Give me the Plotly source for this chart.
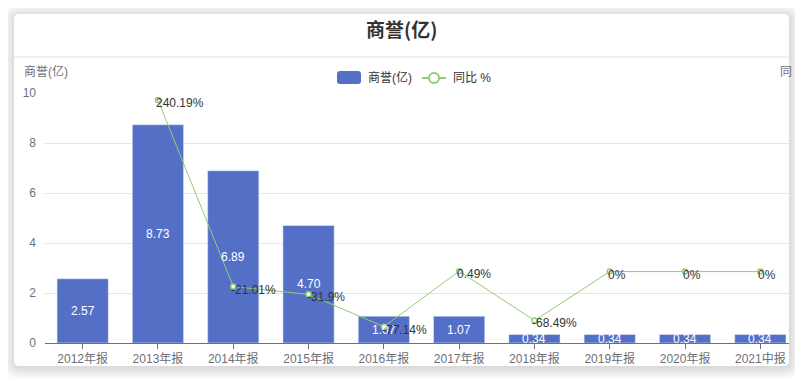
import plotly.graph_objects as go

categories = ["2012年报", "2013年报", "2014年报", "2015年报", "2016年报",
              "2017年报", "2018年报", "2019年报", "2020年报", "2021中报"]
goodwill = [2.57, 8.73, 6.89, 4.70, 1.07, 1.07, 0.34, 0.34, 0.34, 0.34]
goodwill_labels = ["2.57", "8.73", "6.89", "4.70", "1.07", "1.07", "0.34", "0.34", "0.34", "0.34"]
yoy = [None, 240.19, -21.01, -31.9, -77.14, 0.49, -68.49, 0, 0, 0]
yoy_labels = [None, "240.19%", "-21.01%", "-31.9%", "-77.14%", "0.49%", "-68.49%", "0%", "0%", "0%"]

W, H = 803, 381
OFF = 8  # page body margin
L, R, T, B = 45, 789, 93, 343  # plot area in screen pixels
FONT = "Liberation Sans, Noto Sans CJK SC, sans-serif"
BAR_C = "#5470c6"
LINE_C = "#91cc75"
AX_C = "#6E7079"


def px(x):
    return (x - L) / (R - L)


def py(y):
    return (B - y) / (B - T)


def rrect(x0, y0, x1, y1, r):
    a, b, c, d = px(x0), px(x1), py(y0), py(y1)
    rx = r / (R - L)
    ry = r / (B - T)
    return (f"M{a+rx},{c} L{b-rx},{c} Q{b},{c} {b},{c-ry} L{b},{d+ry} Q{b},{d} {b-rx},{d} "
            f"L{a+rx},{d} Q{a},{d} {a},{d+ry} L{a},{c-ry} Q{a},{c} {a+rx},{c} Z")


fig = go.Figure()
fig.add_trace(go.Bar(x=categories, y=goodwill, name="商誉(亿)", marker_color=BAR_C,
                     width=0.68, showlegend=False, hoverinfo="x+y"))
fig.add_trace(go.Scatter(x=categories, y=yoy, name="同比 %", yaxis="y2", mode="lines+markers",
                         line=dict(color=LINE_C, width=1),
                         marker=dict(size=5, color="white", line=dict(color=LINE_C, width=1.5)),
                         showlegend=False))

shapes = []
# card shadow
for k in range(1, 13):
    shapes.append(dict(type="path", xref="paper", yref="paper", layer="below",
                       path=rrect(14 - k + 1, 14 - k + 2, 789 + k, 366 + k + 1, 5 + k),
                       fillcolor="rgba(0,0,0,0.012)", line=dict(width=0)))
# card
shapes.append(dict(type="path", xref="paper", yref="paper", layer="below",
                   path=rrect(14, 14, 789, 366, 5), fillcolor="white", line=dict(width=0)))
# title separator
shapes.append(dict(type="line", xref="paper", yref="paper", layer="below",
                   x0=px(14), x1=px(789), y0=py(57), y1=py(57),
                   line=dict(color="#E4E4E4", width=1)))
# legend symbols
shapes.append(dict(type="path", xref="paper", yref="paper", layer="above",
                   path=rrect(337, 71, 361, 84, 3), fillcolor=BAR_C, line=dict(width=0)))
shapes.append(dict(type="line", xref="paper", yref="paper", layer="above",
                   x0=px(422), x1=px(446), y0=py(78), y1=py(78),
                   line=dict(color=LINE_C, width=2)))
shapes.append(dict(type="circle", xref="paper", yref="paper", layer="above",
                   x0=px(429), x1=px(439), y0=py(73), y1=py(83),
                   fillcolor="white", line=dict(color=LINE_C, width=2)))

annotations = []
annotations.append(dict(text="<b>商誉(亿)</b>", xref="paper", yref="paper", x=px(401.5), y=py(28),
                        showarrow=False, xanchor="center", yanchor="middle",
                        font=dict(family="Noto Sans CJK SC", size=19, color="#333333")))
annotations.append(dict(text="商誉(亿)", xref="paper", yref="paper", x=px(366), y=py(78),
                        showarrow=False, xanchor="left", yanchor="middle",
                        font=dict(family=FONT, size=12, color="#333333")))
annotations.append(dict(text="同比 %", xref="paper", yref="paper", x=px(451), y=py(78),
                        showarrow=False, xanchor="left", yanchor="middle",
                        font=dict(family=FONT, size=12, color="#333333")))
annotations.append(dict(text="商誉(亿)", xref="paper", yref="paper", x=px(22), y=py(72),
                        showarrow=False, xanchor="left", yanchor="middle",
                        font=dict(family=FONT, size=12, color=AX_C)))
annotations.append(dict(text="同", xref="paper", yref="paper", x=px(778), y=py(72),
                        showarrow=False, xanchor="left", yanchor="middle",
                        font=dict(family=FONT, size=12, color=AX_C)))
for c, v, t in zip(categories, goodwill, goodwill_labels):
    annotations.append(dict(text=t, x=c, y=v / 2, xref="x", yref="y", showarrow=False,
                            xanchor="center", yanchor="middle",
                            font=dict(family=FONT, size=12, color="white")))
for c, v, t in zip(categories, yoy, yoy_labels):
    if v is None:
        continue
    annotations.append(dict(text=t, x=c, y=v, xref="x", yref="y2", showarrow=False,
                            xanchor="left", yanchor="middle", xshift=-4, yshift=-3,
                            font=dict(family=FONT, size=12, color="#333333")))

fig.update_layout(
    width=W, height=H,
    margin=dict(l=L - OFF, r=W - (R - OFF), t=T - OFF, b=H - (B - OFF), pad=0),
    paper_bgcolor="white", plot_bgcolor="rgba(0,0,0,0)",
    font=dict(family=FONT, size=12, color=AX_C),
    showlegend=False,
    xaxis=dict(type="category", range=[-0.5, 9.5 - (798 - 789) / 75.3],
               showline=True, linecolor=AX_C, linewidth=1,
               ticks="outside", ticklen=5, tickcolor=AX_C,
               tickfont=dict(family=FONT, size=12, color=AX_C), showgrid=False),
    yaxis=dict(range=[0, 10], dtick=2, gridcolor="#E0E6F1", zeroline=False,
               ticks="", ticklabelstandoff=8,
               tickfont=dict(family=FONT, size=12, color=AX_C)),
    yaxis2=dict(range=[-100, 250], overlaying="y", side="right", showgrid=False,
                zeroline=False, showticklabels=False, ticks=""),
    shapes=shapes, annotations=annotations,
)

fig.write_html("out.html")
